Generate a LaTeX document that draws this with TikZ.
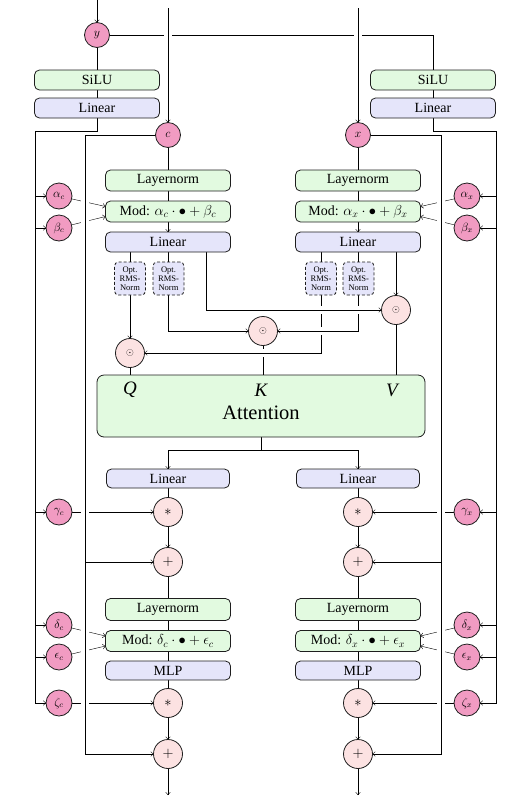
\documentclass[tikz,border=0pt]{standalone}
\usepackage{fontspec}
\setmainfont{Liberation Serif}
\usetikzlibrary{arrows.meta,calc}
\pgfdeclarelayer{bg}
\pgfsetlayers{bg,main}
\definecolor{pinkN}{RGB}{241,155,194}
\definecolor{opF}{RGB}{252,226,226}
\definecolor{grnF}{RGB}{226,250,224}
\definecolor{bluF}{RGB}{229,229,250}
\definecolor{lineC}{RGB}{30,30,30}
\begin{document}
\begin{tikzpicture}[x=1pt,y=-1pt,line width=0.8pt,
  every node/.style={inner sep=0pt,outer sep=0pt},
  box/.style={draw=lineC,rounded corners=5pt,minimum width=125pt,minimum height=20pt,font=\fontsize{14}{16}\selectfont},
  gbox/.style={box,fill=grnF},
  bbox/.style={box,fill=bluF},
  pn/.style={circle,draw=lineC,fill=pinkN,minimum size=26pt,font=\fontsize{11.5}{13}\selectfont},
  pnb/.style={pn,minimum size=25pt,font=\fontsize{13}{14}\selectfont},
  opn/.style={circle,draw=lineC,fill=opF,minimum size=29pt,font=\fontsize{15}{16}\selectfont},
  rmsbox/.style={draw=lineC,dash pattern=on 3pt off 2pt,rounded corners=4pt,fill=bluF,minimum width=31pt,minimum height=33pt,align=center,font=\fontsize{8.5}{9}\selectfont},
  arr/.style={-{To[length=3pt,width=5pt]}},
  gap/.style={preaction={draw=white,line width=8pt,arrows=-}},
  lbl/.style={font=\fontsize{19}{21}\selectfont\itshape},
]
\useasboundingbox (0,0) rectangle (528,804);

% ---------- nodes ----------
\node[pnb] (y) at (97,35) {$y$};
\node[gbox,minimum height=20pt] (silul) at (97,80) {SiLU};
\node[bbox,minimum height=20pt] (linl) at (97,108) {Linear};
\node[gbox,minimum height=20pt] (silur) at (433,80) {SiLU};
\node[bbox,minimum height=20pt] (linr) at (433,108) {Linear};

\node[pnb] (c) at (168,135) {$c$};
\node[pnb] (x) at (358,135) {$x$};

\node[gbox,minimum height=21pt] (lnc) at (168,180.5) {Layernorm};
\node[gbox,minimum height=21pt] (modc) at (168,211.5) {Mod: $\alpha_c\cdot\bullet+\beta_c$};
\node[bbox,minimum height=20pt] (linc) at (168,242) {Linear};
\node[gbox,minimum height=21pt] (lnx) at (358,180.5) {Layernorm};
\node[gbox,minimum height=21pt] (modx) at (358,211.5) {Mod: $\alpha_x\cdot\bullet+\beta_x$};
\node[bbox,minimum height=20pt] (linx) at (358,242) {Linear};

\node[pn] (alc) at (59,196) {$\alpha_c$};
\node[pn] (bec) at (59,228) {$\beta_c$};
\node[pn] (alx) at (467,196) {$\alpha_x$};
\node[pn] (bex) at (467,228) {$\beta_x$};

\node[rmsbox] (rms1c) at (130,278.5) {Opt.\\RMS-\\Norm};
\node[rmsbox] (rms2c) at (168.5,278.5) {Opt.\\RMS-\\Norm};
\node[rmsbox] (rms1x) at (321,278.5) {Opt.\\RMS-\\Norm};
\node[rmsbox] (rms2x) at (358.5,278.5) {Opt.\\RMS-\\Norm};

\node[opn,font=\fontsize{10}{11}\selectfont] (oq) at (130,353) {$\odot$};
\node[opn,font=\fontsize{10}{11}\selectfont] (ok) at (263,331) {$\odot$};
\node[opn,font=\fontsize{10}{11}\selectfont] (ov) at (396,310) {$\odot$};

\node[draw=lineC,fill=grnF,rounded corners=7pt,minimum width=328pt,minimum height=62pt] (att) at (261,406) {};
\node[font=\fontsize{20.5}{22}\selectfont] (atttxt) at (261,413) {Attention};
\node[lbl] (lq) at (130,390) {Q};
\node[lbl] (lk) at (261,390) {K};
\node[lbl] (lv) at (392,390) {V};

\node[bbox,minimum height=19pt,minimum width=123pt] (lin3c) at (168,478.5) {Linear};
\node[bbox,minimum height=19pt,minimum width=123pt] (lin3x) at (358,478.5) {Linear};

\node[opn] (mulc) at (168,512) {$*$};
\node[opn] (addc) at (168,562) {$+$};
\node[opn] (mulx) at (358,512) {$*$};
\node[opn] (addx) at (358,562) {$+$};
\node[pn] (gac) at (59,512) {$\gamma_c$};
\node[pn] (gax) at (467,512) {$\gamma_x$};

\node[gbox,minimum height=22pt] (ln2c) at (168,609.5) {Layernorm};
\node[gbox,minimum height=21pt] (mod2c) at (168,641) {Mod: $\delta_c\cdot\bullet+\epsilon_c$};
\node[bbox,minimum height=19pt] (mlpc) at (168,670.5) {MLP};
\node[gbox,minimum height=22pt] (ln2x) at (358,609.5) {Layernorm};
\node[gbox,minimum height=21pt] (mod2x) at (358,641) {Mod: $\delta_x\cdot\bullet+\epsilon_x$};
\node[bbox,minimum height=19pt] (mlpx) at (358,670.5) {MLP};

\node[pn] (dec) at (59,625) {$\delta_c$};
\node[pn] (epc) at (59,657) {$\epsilon_c$};
\node[pn] (zec) at (59,703) {$\zeta_c$};
\node[pn] (dex) at (467,625) {$\delta_x$};
\node[pn] (epx) at (467,657) {$\epsilon_x$};
\node[pn] (zex) at (467,703) {$\zeta_x$};

\node[opn] (mul2c) at (168,703) {$*$};
\node[opn] (add2c) at (168,754) {$+$};
\node[opn] (mul2x) at (358,703) {$*$};
\node[opn] (add2x) at (358,754) {$+$};

\coordinate (ytop) at (97,0);
\coordinate (ctop) at (168,8);
\coordinate (xtop) at (358,8);
\coordinate (lA) at (35,131);
\coordinate (lB) at (97,131);
\coordinate (rA) at (496,131);
\coordinate (rB) at (433,131);
\coordinate (cL) at (85,135);
\coordinate (xR) at (441,135);
\coordinate (vj) at (206,310);
\coordinate (aj) at (261,450);
\coordinate (outc) at (168,795);
\coordinate (outx) at (358,795);

% ---------- connectors ----------
\begin{pgfonlayer}{bg}
% conditioning path
\draw[arr] (ytop) -- (y);
\draw (y) -- (y -| silur) -- (silur);
\draw (y) -- (silul);
\draw (silul) -- (linl);
\draw (silur) -- (linr);
\draw[arr,gap] (ctop) -- (c);
\draw[arr,gap] (xtop) -- (x);

\draw[arr] (linl) -- (lB) -- (lA) -- (lA |- zec) -- (zec);
\foreach \n in {alc,bec,gac,dec,epc} \draw[arr] (lA |- \n) -- (\n);
\draw[arr] (linr) -- (rB) -- (rA) -- (rA |- zex) -- (zex);
\foreach \n in {alx,bex,gax,dex,epx} \draw[arr] (rA |- \n) -- (\n);

% modulation inputs
\draw[arr] (alc) -- ($(modc.west)+(0,-5)$);
\draw[arr] (bec) -- ($(modc.west)+(0,5)$);
\draw[arr] (gac) -- (mulc);
\draw[arr] (dec) -- ($(mod2c.west)+(0,-5)$);
\draw[arr] (epc) -- ($(mod2c.west)+(0,5)$);
\draw[arr] (zec) -- (mul2c);
\draw[arr] (alx) -- ($(modx.east)+(0,-5)$);
\draw[arr] (bex) -- ($(modx.east)+(0,5)$);
\draw[arr] (gax) -- (mulx);
\draw[arr] (dex) -- ($(mod2x.east)+(0,-5)$);
\draw[arr] (epx) -- ($(mod2x.east)+(0,5)$);
\draw[arr] (zex) -- (mul2x);

% residual lines
\draw[arr,gap] (cL) -- (cL |- add2c) -- (add2c);
\draw (c) -- (cL);
\draw[arr] (cL |- addc) -- (addc);
\draw[arr,gap] (xR) -- (xR |- add2x) -- (add2x);
\draw (x) -- (xR);
\draw[arr] (xR |- addx) -- (addx);

% upper streams
\draw (c) -- (lnc);
\draw (lnc) -- (modc);
\draw[arr] (modc) -- (linc);
\draw (x) -- (lnx);
\draw (lnx) -- (modx);
\draw[arr] (modx) -- (linx);

\draw (rms1c |- linc.south) -- (rms1c);
\draw (rms2c |- linc.south) -- (rms2c);
\draw (rms1x |- linx.south) -- (rms1x);
\draw (rms2x |- linx.south) -- (rms2x);

% joint attention inputs
\draw (ok) -- (ok |- att.north);
\draw (oq) -- (oq |- att.north);
\draw (ov) -- (ov |- att.north);
\draw[arr] (rms1c) -- (oq);
\draw[arr] (rms2c) -- (rms2c |- ok) -- (ok);
\draw[arr] (ov |- linx.south) -- (ov);
\draw[arr,gap] (rms1x) -- (rms1x |- oq) -- (oq);
\draw[arr,gap] (rms2x) -- (rms2x |- ok) -- (ok);
\draw[arr,gap] (vj |- linc.south) -- (vj) -- (ov);

% attention output
\draw (att.south) -- (aj);
\draw[arr] (aj) -- (aj -| lin3c) -- (lin3c);
\draw[arr] (aj) -- (aj -| lin3x) -- (lin3x);

% lower streams
\draw (lin3c) -- (mulc);
\draw[arr] (mulc) -- (addc);
\draw (addc) -- (ln2c);
\draw (ln2c) -- (mod2c);
\draw (mod2c) -- (mlpc);
\draw (mlpc) -- (mul2c);
\draw[arr] (mul2c) -- (add2c);
\draw[arr] (add2c) -- (outc);
\draw (lin3x) -- (mulx);
\draw[arr] (mulx) -- (addx);
\draw (addx) -- (ln2x);
\draw (ln2x) -- (mod2x);
\draw (mod2x) -- (mlpx);
\draw (mlpx) -- (mul2x);
\draw[arr] (mul2x) -- (add2x);
\draw[arr] (add2x) -- (outx);
\end{pgfonlayer}
\end{tikzpicture}
\end{document}
